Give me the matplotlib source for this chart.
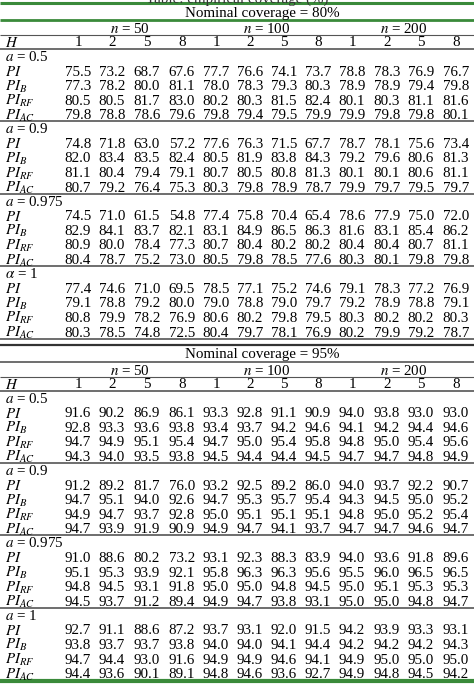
import matplotlib
matplotlib.use("Agg")
import matplotlib.pyplot as plt

plt.rcParams['font.family'] = ['Liberation Serif', 'DejaVu Serif']
plt.rcParams['mathtext.fontset'] = 'stix'

H_vals = ["1", "2", "5", "8"] * 3
n_groups = ["$n$ = 50", "$n$ = 100", "$n$ = 200"]
methods = ["$PI$", "$PI_{B}$", "$PI_{RF}$", "$PI_{AC}$"]

labels80 = ["$a$ = 0.5", "$a$ = 0.9", "$a$ = 0.975", r"$\alpha$ = 1"]
cov80 = [
    [[75.5,73.2,68.7,67.6,77.7,76.6,74.1,73.7,78.8,78.3,76.9,76.7],
     [77.3,78.2,80.0,81.1,78.0,78.3,79.3,80.3,78.9,78.9,79.4,79.8],
     [80.5,80.5,81.7,83.0,80.2,80.3,81.5,82.4,80.1,80.3,81.1,81.6],
     [79.8,78.8,78.6,79.6,79.8,79.4,79.5,79.9,79.9,79.8,79.8,80.1]],
    [[74.8,71.8,63.0,57.2,77.6,76.3,71.5,67.7,78.7,78.1,75.6,73.4],
     [82.0,83.4,83.5,82.4,80.5,81.9,83.8,84.3,79.2,79.6,80.6,81.3],
     [81.1,80.4,79.4,79.1,80.7,80.5,80.8,81.3,80.1,80.1,80.6,81.1],
     [80.7,79.2,76.4,75.3,80.3,79.8,78.9,78.7,79.9,79.7,79.5,79.7]],
    [[74.5,71.0,61.5,54.8,77.4,75.8,70.4,65.4,78.6,77.9,75.0,72.0],
     [82.9,84.1,83.7,82.1,83.1,84.9,86.5,86.3,81.6,83.1,85.4,86.2],
     [80.9,80.0,78.4,77.3,80.7,80.4,80.2,80.2,80.4,80.4,80.7,81.1],
     [80.4,78.7,75.2,73.0,80.5,79.8,78.5,77.6,80.3,80.1,79.8,79.8]],
    [[77.4,74.6,71.0,69.5,78.5,77.1,75.2,74.6,79.1,78.3,77.2,76.9],
     [79.1,78.8,79.2,80.0,79.0,78.8,79.0,79.7,79.2,78.9,78.8,79.1],
     [80.8,79.9,78.2,76.9,80.6,80.2,79.8,79.5,80.3,80.2,80.2,80.3],
     [80.3,78.5,74.8,72.5,80.4,79.7,78.1,76.9,80.2,79.9,79.2,78.7]],
]
labels95 = ["$a$ = 0.5", "$a$ = 0.9", "$a$ = 0.975", "$a$ = 1"]
cov95 = [
    [[91.6,90.2,86.9,86.1,93.3,92.8,91.1,90.9,94.0,93.8,93.0,93.0],
     [92.8,93.3,93.6,93.8,93.4,93.7,94.2,94.6,94.1,94.2,94.4,94.6],
     [94.7,94.9,95.1,95.4,94.7,95.0,95.4,95.8,94.8,95.0,95.4,95.6],
     [94.3,94.0,93.5,93.8,94.5,94.4,94.4,94.5,94.7,94.7,94.8,94.9]],
    [[91.2,89.2,81.7,76.0,93.2,92.5,89.2,86.0,94.0,93.7,92.2,90.7],
     [94.7,95.1,94.0,92.6,94.7,95.3,95.7,95.4,94.3,94.5,95.0,95.2],
     [94.9,94.7,93.7,92.8,95.0,95.1,95.1,95.1,94.8,95.0,95.2,95.4],
     [94.7,93.9,91.9,90.9,94.9,94.7,94.1,93.7,94.7,94.7,94.6,94.7]],
    [[91.0,88.6,80.2,73.2,93.1,92.3,88.3,83.9,94.0,93.6,91.8,89.6],
     [95.1,95.3,93.9,92.1,95.8,96.3,96.3,95.6,95.5,96.0,96.5,96.5],
     [94.8,94.5,93.1,91.8,95.0,95.0,94.8,94.5,95.0,95.1,95.3,95.3],
     [94.5,93.7,91.2,89.4,94.9,94.7,93.8,93.1,95.0,95.0,94.8,94.7]],
    [[92.7,91.1,88.6,87.2,93.7,93.1,92.0,91.5,94.2,93.9,93.3,93.1],
     [93.8,93.7,93.7,93.8,94.0,94.0,94.1,94.4,94.2,94.2,94.2,94.3],
     [94.7,94.4,93.0,91.6,94.9,94.9,94.6,94.1,94.9,95.0,95.0,95.0],
     [94.4,93.6,90.1,89.1,94.8,94.6,93.6,92.7,94.9,94.8,94.5,94.2]],
]

W, Hpx = 474, 699
fig = plt.figure(figsize=(W/100, Hpx/100), dpi=100)
ax = fig.add_axes([0, 0, 1, 1])
ax.set_xlim(0, W); ax.set_ylim(Hpx, 0); ax.axis('off')

xcols = [78, 112, 147, 182, 216, 250, 284, 318, 352, 387, 421, 456]
xgrp = [130, 267, 404]
fs = 10.8
green = '#3a8a3a'
gray = '#555555'

def hline(y, c=gray, lw=1.2):
    ax.plot([0, W], [y, y], color=c, lw=lw, solid_capstyle='butt')

def section(y0, title, labels, data, top_color, top_lw):
    hline(y0, top_color, top_lw)
    ax.text(W/2 + 25, y0 + 10, title, ha='center', va='center', fontsize=fs)
    hline(y0 + 17, green if top_color == green else gray, 2.0 if top_color == green else 1.2)
    for xg, lab in zip(xgrp, n_groups):
        ax.text(xg, y0 + 26, lab, ha='center', va='center', fontsize=fs)
    hline(y0 + 32, gray, 0.8)
    ax.text(5, y0 + 40, "$H$", ha='left', va='center', fontsize=fs)
    for x, h in zip(xcols, H_vals):
        ax.text(x, y0 + 40, h, ha='center', va='center', fontsize=fs)
    hline(y0 + 46, gray, 1.2)
    y = y0 + 54
    for bi, (lab, block) in enumerate(zip(labels, data)):
        ax.text(5, y, lab, ha='left', va='center', fontsize=fs)
        y += 15
        for m, row in zip(methods, block):
            ax.text(5, y, m, ha='left', va='center', fontsize=fs)
            for x, v in zip(xcols, row):
                ax.text(x, y, f"{v:.1f}", ha='center', va='center', fontsize=fs)
            y += 14.6
        ly = y - 9
        if bi < 3:
            hline(ly, gray, 1.2)
        y = ly + 8
    return y - 8

ax.text(W/2, -1, "Table: empirical coverage (%)", ha='center', va='center', fontsize=fs, color='#333333')
yend = section(3, "Nominal coverage = 80%", labels80, cov80, green, 2.2)
hline(yend, gray, 1.2)
yend2 = section(yend + 6, "Nominal coverage = 95%", labels95, cov95, '#333333', 1.6)
hline(yend2 + 1, green, 3.0)

fig.savefig("out.png", dpi=100)
